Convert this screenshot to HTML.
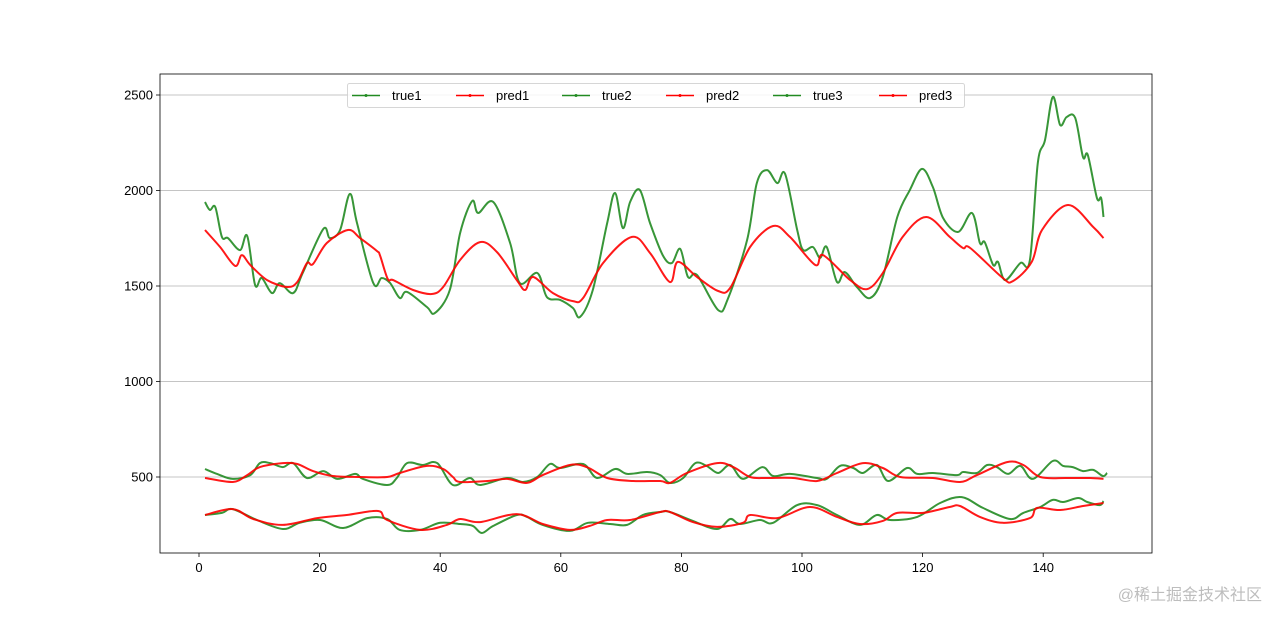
<!DOCTYPE html>
<html><head><meta charset="utf-8"><style>
body{margin:0;background:#fff;width:1280px;height:623px;overflow:hidden;font-family:"Liberation Sans","DejaVu Sans",sans-serif}
</style></head><body>
<svg id="chart" width="1280" height="623" xmlns="http://www.w3.org/2000/svg" font-family="Liberation Sans, DejaVu Sans, sans-serif">
<text x="1262" y="600" text-anchor="end" font-size="16" fill="#bdbdbd" font-family="Liberation Sans, Noto Sans CJK SC, sans-serif">@稀土掘金技术社区</text>
</svg>
<script>
const xTicks=[0,20,40,60,80,100,120,140];
const yTicks=[500,1000,1500,2000,2500];
const true1X=[1.0,1.8,2.7,3.8,4.8,6.8,8.0,9.3,10.4,12.1,13.4,15.6,17.2,20.6,21.7,23.4,25.0,26.2,28.9,30.3,31.7,33.3,34.5,37.8,39.1,41.6,43.3,45.3,46.3,48.8,51.6,53.2,56.1,57.7,59.9,62.0,63.2,65.3,67.7,69.0,70.3,71.5,73.1,74.8,76.9,78.4,79.8,81.1,82.6,86.1,87.7,90.9,92.5,94.2,95.9,97.2,99.2,100.2,101.8,103.0,104.1,105.8,107.1,109.1,111.3,113.4,115.8,117.9,119.9,121.7,123.4,125.9,128.2,129.5,130.3,131.7,132.5,133.7,136.2,137.8,139.1,140.3,141.6,142.8,143.9,145.3,146.6,147.4,148.9,149.6,150];
const true1Y=[1940,1898,1913,1757,1751,1688,1762,1505,1542,1463,1515,1463,1568,1798,1751,1793,1982,1830,1515,1542,1515,1437,1469,1390,1358,1479,1777,1945,1882,1940,1725,1515,1568,1442,1427,1385,1338,1479,1830,1987,1803,1940,2003,1830,1662,1620,1694,1547,1557,1374,1432,1741,2039,2107,2039,2087,1793,1688,1704,1647,1704,1521,1573,1495,1437,1547,1861,2003,2113,2018,1856,1783,1882,1725,1730,1610,1626,1531,1620,1636,2144,2264,2490,2343,2385,2380,2175,2186,1961,1961,1861];
const pred1X=[1.0,3.5,6.0,7.1,8.5,11.3,14.6,16.3,17.9,18.9,21.2,24.7,26.7,29.5,30.0,31.3,32.2,35.5,38.6,40.5,43.3,46.6,49.4,52.7,54.1,55.4,58.7,62.0,63.7,67.0,71.8,74.8,78.1,79.4,82.6,86.1,88.1,91.4,95.2,98.0,102.2,103.5,108.0,110.8,113.4,116.7,120.6,124.5,126.7,127.9,133.3,135.0,138.1,139.8,144.1,148.3,150];
const pred1Y=[1793,1704,1605,1662,1610,1531,1495,1521,1620,1615,1725,1793,1751,1683,1662,1537,1531,1479,1458,1495,1636,1730,1678,1531,1479,1547,1463,1421,1437,1620,1757,1673,1521,1626,1547,1474,1490,1704,1814,1757,1610,1662,1531,1484,1568,1757,1861,1757,1699,1699,1542,1526,1626,1793,1924,1809,1751];
const true2X=[1.0,3.0,5.6,8.5,10.1,11.8,13.9,15.6,17.9,20.6,22.9,25.9,27.2,31.2,32.8,34.5,37.1,39.5,42.1,44.9,46.6,51.1,53.7,56.1,58.2,59.9,63.7,66.0,69.0,71.0,74.3,76.5,78.1,80.3,82.3,84.2,86.1,88.1,90.2,93.4,95.2,98.0,102.5,104.1,106.3,108.5,110.1,112.4,114.3,117.4,119.1,121.7,125.7,126.7,129.0,130.7,132.3,134.2,136.2,138.3,141.6,143.3,144.9,146.6,148.3,149.9,150.6];
const true2Y=[542,516,490,510,573,573,552,573,495,531,490,516,490,458,495,573,563,573,458,495,458,495,474,500,568,547,568,495,542,516,526,510,469,495,573,558,521,563,490,552,505,516,495,490,558,547,521,563,479,547,516,521,510,526,521,563,552,516,558,490,584,558,552,531,537,505,521];
const pred2X=[1.0,5.6,8.0,10.1,13.9,16.3,18.9,22.2,26.7,31.2,33.3,37.8,40.5,42.1,43.3,47.8,51.1,54.4,57.0,61.5,64.3,67.7,72.0,76.5,78.1,80.9,85.9,88.6,91.4,94.2,98.5,102.5,105.8,110.1,113.4,116.3,121.7,126.2,129.0,134.0,136.7,139.5,143.9,147.8,150];
const pred2Y=[495,474,510,552,573,568,531,505,500,500,521,558,542,500,474,479,490,469,510,563,552,495,479,479,469,521,573,552,500,495,495,479,521,573,547,500,495,474,510,578,563,500,495,495,490];
const true3X=[1.0,3.8,5.6,9.6,13.9,16.7,20.1,23.9,27.9,31.2,33.3,36.7,40.0,43.3,45.4,46.9,48.8,52.7,54.4,57.0,61.5,64.5,68.2,71.0,73.6,76.5,78.1,81.9,85.9,88.1,89.7,93.0,95.2,99.2,102.5,105.8,109.6,112.4,114.6,119.1,122.9,126.5,130.0,134.5,136.7,139.5,141.6,143.3,145.8,147.3,149.4,150];
const true3Y=[301,312,332,275,228,260,275,233,285,280,223,223,260,254,244,207,244,301,291,249,218,260,254,249,301,317,317,270,228,280,254,275,260,353,353,301,249,301,275,291,364,395,338,280,312,343,380,369,390,369,353,374];
const pred3X=[1.0,5.6,9.0,13.9,19.6,24.5,29.7,31.2,36.7,41.1,43.3,46.6,52.7,57.0,61.5,64.8,67.7,71.5,76.5,78.1,81.9,85.9,90.2,91.4,95.9,101.3,105.8,109.6,113.4,115.8,120.1,124.5,126.2,129.5,133.3,137.8,139.0,142.8,146.6,150];
const pred3Y=[301,332,280,249,285,301,322,275,223,249,280,264,306,254,223,244,275,275,317,317,264,239,260,301,285,343,291,254,270,312,312,343,348,291,260,285,338,327,348,364];

const NS='http://www.w3.org/2000/svg';
const svg=document.getElementById('chart');
const L=160,R=1152,T=74,B=553;
function sx(v){return 199+v*6.03;}
function sy(v){return 477-(v-500)*0.191;}
function mk(tag,attrs){const e=document.createElementNS(NS,tag);for(const k in attrs)e.setAttribute(k,attrs[k]);svg.appendChild(e);return e;}
function smooth(P){
  let d='M'+P[0][0].toFixed(1)+','+P[0][1].toFixed(1);
  for(let i=0;i<P.length-1;i++){
    const p0=P[Math.max(0,i-1)],p1=P[i],p2=P[i+1],p3=P[Math.min(P.length-1,i+2)];
    const c1x=p1[0]+(p2[0]-p0[0])/6,c1y=p1[1]+(p2[1]-p0[1])/6;
    const c2x=p2[0]-(p3[0]-p1[0])/6,c2y=p2[1]-(p3[1]-p1[1])/6;
    d+=' C'+c1x.toFixed(1)+','+c1y.toFixed(1)+' '+c2x.toFixed(1)+','+c2y.toFixed(1)+' '+p2[0].toFixed(1)+','+p2[1].toFixed(1);
  }
  return d;
}

yTicks.forEach(t=>{
  const g=mk('line',{x1:L,x2:R,y1:sy(t),y2:sy(t),stroke:'#b0b0b0','stroke-width':0.8});
  
  
  const tk=mk('line',{x1:L-4,x2:L,y1:sy(t),y2:sy(t),stroke:'#000','stroke-width':0.8});
  
  
  const tx=mk('text',{x:L-7,y:sy(t)+4.5,'text-anchor':'end','font-size':13,fill:'#000'});
  tx.textContent=t;
  
  
});
xTicks.forEach(t=>{
  const tk=mk('line',{x1:sx(t),x2:sx(t),y1:B,y2:B+4,stroke:'#000','stroke-width':0.8});
  
  
  const tx=mk('text',{x:sx(t),y:B+19,'text-anchor':'middle','font-size':13,fill:'#000'});
  tx.textContent=t;
  
  
});

const series=[
 ['true1',true1X,true1Y,'#228b22'],['pred1',pred1X,pred1Y,'#ff0000'],
 ['true2',true2X,true2Y,'#228b22'],['pred2',pred2X,pred2Y,'#ff0000'],
 ['true3',true3X,true3Y,'#228b22'],['pred3',pred3X,pred3Y,'#ff0000']];
series.forEach(s=>{
  const P=s[1].map((x,i)=>[sx(x),sy(s[2][i])]);
  const p=mk('path',{d:smooth(P),fill:'none',stroke:s[3],'stroke-width':2,'stroke-linejoin':'round',opacity:0.9});
  
  
});

const frame=mk('rect',{x:L,y:T,width:R-L,height:B-T,fill:'none',stroke:'#000','stroke-width':0.8});



const lg=mk('rect',{x:347.5,y:83.5,width:617,height:24,rx:2,fill:'#fff',stroke:'#d0d0d0','stroke-width':1,opacity:0.85});


const lx=[352,456,562,666,773,879];
series.forEach((s,i)=>{
  const ln=mk('line',{x1:lx[i],x2:lx[i]+28,y1:95.5,y2:95.5,stroke:s[3],'stroke-width':1.6});
  
  
  const d=mk('circle',{cx:lx[i]+14,cy:95.5,r:1.5,fill:s[3]});
  
  
  const t=mk('text',{x:lx[i]+40,y:100,'font-size':13,fill:'#000'});
  t.textContent=s[0];
  
  
});
</script>
</body></html>
